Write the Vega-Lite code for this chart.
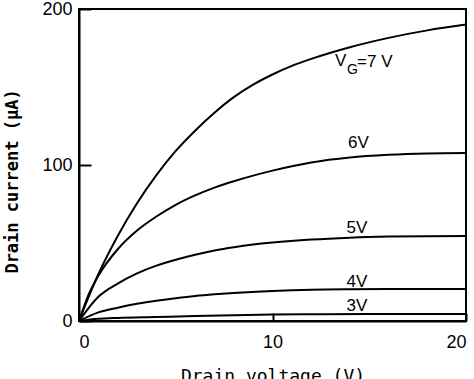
{
  "$schema": "https://vega.github.io/schema/vega-lite/v6.json",
  "autosize": "none",
  "width": 387,
  "height": 312,
  "padding": {"left": 79, "top": 9, "right": 8, "bottom": 58},
  "background": "white",
  "config": {
    "view": {"stroke": "#000", "strokeWidth": 2},
    "axis": {
      "domainColor": "#000", "domainWidth": 2, "tickColor": "#000", "tickWidth": 2,
      "labelColor": "#000", "titleColor": "#000", "grid": false, "zindex": 1,
      "labelFont": "Liberation Sans", "labelFontSize": 18,
      "titleFont": "DejaVu Sans Mono", "titleFontWeight": "bold", "titleFontSize": 17
    }
  },
  "datasets": {
    "curves": [
      {"vg": "7V", "vd": 0, "id": 0}, {"vg": "7V", "vd": 1, "id": 30}, {"vg": "7V", "vd": 2, "id": 54.5}, {"vg": "7V", "vd": 3, "id": 75.5}, {"vg": "7V", "vd": 4, "id": 93.5}, {"vg": "7V", "vd": 5, "id": 109}, {"vg": "7V", "vd": 6, "id": 122}, {"vg": "7V", "vd": 7, "id": 133.5}, {"vg": "7V", "vd": 8, "id": 143.5}, {"vg": "7V", "vd": 9, "id": 151.5}, {"vg": "7V", "vd": 10, "id": 158}, {"vg": "7V", "vd": 11, "id": 163.5}, {"vg": "7V", "vd": 12, "id": 168}, {"vg": "7V", "vd": 14, "id": 175.5}, {"vg": "7V", "vd": 16, "id": 181.5}, {"vg": "7V", "vd": 18, "id": 186.3}, {"vg": "7V", "vd": 20, "id": 190},
      {"vg": "6V", "vd": 0, "id": 0}, {"vg": "6V", "vd": 0.5, "id": 17}, {"vg": "6V", "vd": 1, "id": 29}, {"vg": "6V", "vd": 2, "id": 46}, {"vg": "6V", "vd": 3, "id": 58}, {"vg": "6V", "vd": 4, "id": 67}, {"vg": "6V", "vd": 5, "id": 74.5}, {"vg": "6V", "vd": 6, "id": 80.5}, {"vg": "6V", "vd": 7, "id": 85.5}, {"vg": "6V", "vd": 8, "id": 89.6}, {"vg": "6V", "vd": 9, "id": 93.2}, {"vg": "6V", "vd": 10, "id": 96.4}, {"vg": "6V", "vd": 11, "id": 99.2}, {"vg": "6V", "vd": 12, "id": 101.6}, {"vg": "6V", "vd": 14, "id": 104.8}, {"vg": "6V", "vd": 16, "id": 106.5}, {"vg": "6V", "vd": 18, "id": 107.4}, {"vg": "6V", "vd": 20, "id": 107.7},
      {"vg": "5V", "vd": 0, "id": 0}, {"vg": "5V", "vd": 1, "id": 15.5}, {"vg": "5V", "vd": 2, "id": 24}, {"vg": "5V", "vd": 3, "id": 30.5}, {"vg": "5V", "vd": 4, "id": 35.5}, {"vg": "5V", "vd": 5, "id": 39.3}, {"vg": "5V", "vd": 6, "id": 42.5}, {"vg": "5V", "vd": 7, "id": 45.2}, {"vg": "5V", "vd": 8, "id": 47.3}, {"vg": "5V", "vd": 9, "id": 49}, {"vg": "5V", "vd": 10, "id": 50.3}, {"vg": "5V", "vd": 12, "id": 52.2}, {"vg": "5V", "vd": 14, "id": 53.4}, {"vg": "5V", "vd": 16, "id": 54.1}, {"vg": "5V", "vd": 18, "id": 54.4}, {"vg": "5V", "vd": 20, "id": 54.5},
      {"vg": "4V", "vd": 0, "id": 0}, {"vg": "4V", "vd": 1, "id": 5.5}, {"vg": "4V", "vd": 2, "id": 8.5}, {"vg": "4V", "vd": 3, "id": 11}, {"vg": "4V", "vd": 4, "id": 13}, {"vg": "4V", "vd": 5, "id": 14.6}, {"vg": "4V", "vd": 6, "id": 16}, {"vg": "4V", "vd": 7, "id": 17.1}, {"vg": "4V", "vd": 8, "id": 18}, {"vg": "4V", "vd": 10, "id": 19.3}, {"vg": "4V", "vd": 12, "id": 20.1}, {"vg": "4V", "vd": 14, "id": 20.4}, {"vg": "4V", "vd": 16, "id": 20.5}, {"vg": "4V", "vd": 20, "id": 20.5},
      {"vg": "3V", "vd": 0, "id": 0}, {"vg": "3V", "vd": 1, "id": 1.4}, {"vg": "3V", "vd": 2, "id": 2}, {"vg": "3V", "vd": 4, "id": 2.6}, {"vg": "3V", "vd": 6, "id": 3.2}, {"vg": "3V", "vd": 8, "id": 3.7}, {"vg": "3V", "vd": 10, "id": 4.1}, {"vg": "3V", "vd": 12, "id": 4.3}, {"vg": "3V", "vd": 15, "id": 4.5}, {"vg": "3V", "vd": 20, "id": 4.5}
    ],
    "labels": [
      {"vd": 13.9, "id": 114.4, "text": "6V"},
      {"vd": 13.83, "id": 59.6, "text": "5V"},
      {"vd": 13.83, "id": 25.3, "text": "4V"},
      {"vd": 13.83, "id": 9.6, "text": "3V"},
      {"vd": 13.23, "id": 166.5, "text": "V"},
      {"vd": 14.37, "id": 166, "text": "=7 V"}
    ],
    "subs": [
      {"vd": 13.85, "id": 161, "text": "G"}
    ]
  },
  "layer": [
    {
      "data": {"name": "curves"},
      "mark": {"type": "line", "color": "#000", "strokeWidth": 2, "interpolate": "monotone"},
      "encoding": {
        "x": {
          "field": "vd", "type": "quantitative",
          "scale": {"domain": [0, 20], "nice": false, "zero": true},
          "axis": {
            "values": [0, 10, 20], "tickSize": -8, "labelPadding": 20,
            "title": "Drain voltage (V)", "titleFontSize": 18, "titleFontWeight": "normal",
            "titleBaseline": "top", "titleY": 46
          }
        },
        "y": {
          "field": "id", "type": "quantitative",
          "scale": {"domain": [0, 200], "nice": false},
          "axis": {
            "values": [0, 100, 200], "tickSize": -12, "labelPadding": 19,
            "title": "Drain  current  (μA)",
            "titleBaseline": "middle", "titleX": -67, "titleY": 172
          }
        },
        "detail": {"field": "vg", "type": "nominal"}
      }
    },
    {
      "mark": {"type": "rule", "color": "#000", "strokeWidth": 2},
      "encoding": {
        "x": {"datum": 0, "type": "quantitative"},
        "x2": {"datum": 0.62},
        "y": {"datum": 100, "type": "quantitative"}
      }
    },
    {
      "mark": {"type": "rule", "color": "#000", "strokeWidth": 1.5},
      "encoding": {
        "x": {"datum": 10, "type": "quantitative"},
        "y": {"datum": 0, "type": "quantitative"},
        "y2": {"datum": 5}
      }
    },
    {
      "data": {"name": "labels"},
      "mark": {"type": "text", "align": "left", "baseline": "middle", "font": "Liberation Sans", "fontSize": 17, "color": "#000"},
      "encoding": {
        "x": {"field": "vd", "type": "quantitative"},
        "y": {"field": "id", "type": "quantitative"},
        "text": {"field": "text"}
      }
    },
    {
      "data": {"name": "subs"},
      "mark": {"type": "text", "align": "left", "baseline": "middle", "font": "Liberation Sans", "fontSize": 14, "color": "#000"},
      "encoding": {
        "x": {"field": "vd", "type": "quantitative"},
        "y": {"field": "id", "type": "quantitative"},
        "text": {"field": "text"}
      }
    }
  ]
}
